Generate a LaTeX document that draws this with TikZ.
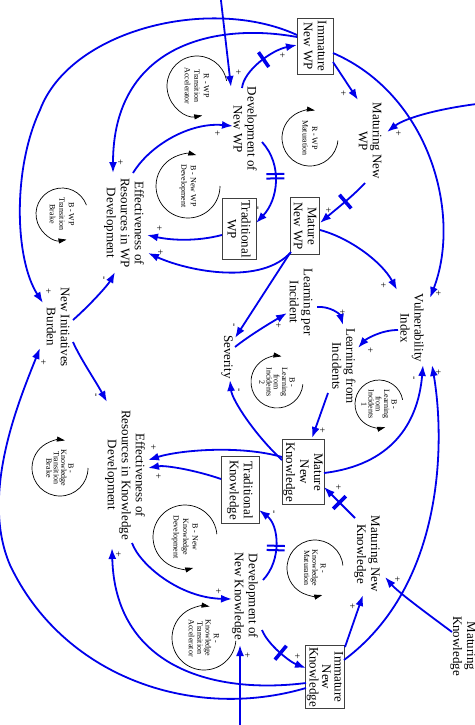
\documentclass[tikz,border=0pt]{standalone}
\usepackage{fontspec}
\setmainfont{Liberation Serif}
\usetikzlibrary{arrows.meta,calc,decorations.markings}
\definecolor{linkblue}{RGB}{0,0,235}
\tikzset{
  link/.style={linkblue, line width=1.8pt, -{Latex[length=11pt,width=8pt]}},
  lbl/.style={align=center, inner sep=1pt, font=\fontsize{13}{14}\selectfont},
  stock/.style={draw=black!75, line width=0.8pt, fill=white, align=center, inner sep=1pt, font=\fontsize{13}{14}\selectfont},
  loopA/.style={align=center, inner sep=0pt, font=\fontsize{8}{9.5}\selectfont},
  loopB/.style={align=center, inner sep=0pt, font=\fontsize{8}{8.3}\selectfont},
  loopC/.style={align=center, inner sep=0pt, font=\fontsize{8}{7.3}\selectfont},
  looparc/.style={black, line width=0.7pt, -{Triangle[length=8pt,width=5pt]}},
  sgn/.style={inner sep=0pt, font=\fontsize{10}{10}\selectfont},
  bar1/.style={postaction={decorate, decoration={markings, mark=at position #1 with {\fill[linkblue] (-1.8,-9) rectangle (1.8,9);}}}},
  bar2/.style={postaction={decorate, decoration={markings, mark=at position #1 with {\fill[linkblue] (-3.2,-9) rectangle (-1.2,9); \fill[linkblue] (1.2,-9) rectangle (3.2,9);}}}},
}
\begin{document}
\begin{tikzpicture}[x=1pt,y=1pt]
\fill[white] (0,0) rectangle (474,-725);
\useasboundingbox (0,0) rectangle (474,-725);
\begin{scope}[rotate=-90, transform shape]
% ---------- variables ----------
\node[stock, minimum width=56pt, minimum height=36pt] (imWP) at (46,315) {Immature\\New WP};
\node[lbl] (devWP) at (129,245) {Development of\\New WP};
\node[lbl] (matgWP) at (141,370) {Maturing New\\WP};
\node[stock, minimum width=57pt, minimum height=29pt] (matWP) at (226,305) {Mature\\New WP};
\node[stock, minimum width=61pt, minimum height=34pt] (tradWP) at (229,239) {Traditional\\WP};
\node[lbl] (effWP) at (223,124) {Effectiveness of\\Resources in WP\\Development};
\node[lbl] (burden) at (327,58) {New Initiatives\\Burden};
\node[lbl] (lpi) at (302,301) {Learning per\\Incident};
\node[lbl] (sev) at (357,227) {Severity};
\node[lbl] (lfi) at (366,344) {Learning from\\Incidents};
\node[lbl] (vul) at (328,412) {Vulnerability\\Index};
\node[stock, minimum width=65pt, minimum height=42pt] (matK) at (472,303) {Mature\\New\\Knowledge};
\node[stock, minimum width=67pt, minimum height=38pt] (tradK) at (490,240) {Traditional\\Knowledge};
\node[lbl] (effK) at (475,125) {Effectiveness of\\Resources in Knowledge\\Development};
\node[lbl] (devK) at (596,245) {Development of\\New Knowledge};
\node[lbl] (matgK) at (554,367) {Maturing New\\Knowledge};
\node[stock, minimum width=63pt, minimum height=38pt, font=\fontsize{13}{12.5}\selectfont] (imK) at (677,325) {Immature\\New\\Knowledge};
\node[lbl] (matgKx) at (646,463) {Maturing\\Knowledge};
\coordinate (topIn) at (-8,220);
\coordinate (rightIn) at (103,485);
\coordinate (botIn) at (733,240);
% ---------- loop labels ----------
\node[loopA] (lp1) at (86,197) {R - WP\\Transition\\Accelerator};
\node[loopA] (lp2) at (138,310) {R - WP\\Maturation};
\node[loopA] (lp3) at (186,188) {B - New WP\\Development};
\node[loopA] (lp4) at (214,62) {B - WP\\Transition\\Brake};
\node[loopC] (lp5) at (382,277) {B -\\Learning\\from\\Incidents\\2};
\node[loopC] (lp6) at (404,379) {B -\\Learning\\from\\Incidents\\1};
\node[loopC] (lp7) at (468,60) {B -\\Knowledge\\Transition\\Brake};
\node[loopA] (lp8) at (537,185) {B - New\\Knowledge\\Development};
\node[loopB] (lp9) at (568,315) {R -\\Knowledge\\Maturation};
\node[loopB] (lp10) at (638,204) {R -\\Knowledge\\Transition\\Accelerator};
\draw[looparc] (lp1.center) ++(100:30) arc[start angle=100, end angle=370, radius=30];
\draw[looparc] (lp2.center) ++(85:28) arc[start angle=85, end angle=-190, radius=28];
\draw[looparc] (lp3.center) ++(90:32) arc[start angle=90, end angle=-195, radius=32];
\draw[looparc] (lp4.center) ++(110:26) arc[start angle=110, end angle=370, radius=26];
\draw[looparc] (lp5.center) ++(85:26) arc[start angle=85, end angle=-190, radius=26];
\draw[looparc] (lp6.center) ++(100:24) arc[start angle=100, end angle=375, radius=24];
\draw[looparc] (lp7.center) ++(90:28) arc[start angle=90, end angle=-190, radius=28];
\draw[looparc] (lp8.center) ++(95:32) arc[start angle=95, end angle=375, radius=32];
\draw[looparc] (lp9.center) ++(95:28) arc[start angle=95, end angle=375, radius=28];
\draw[looparc] (lp10.center) ++(85:32) arc[start angle=85, end angle=-190, radius=32];
% ---------- links ----------
\draw[link] (topIn) -- ($(devWP)+(-42,-14)$);
\draw[link, bar1=0.5] ($(devWP)+(-41,-3)$) .. controls (70,244) and (50,272) .. ($(imWP)+(-1,-18)$);
\draw[link, bar2=0.42] ($(devWP)+(13,17)$) .. controls (165,283) and (200,278) .. ($(tradWP)+(-6,17)$);
\draw[link] ($(effWP)+(-50,9)$) .. controls (145,150) and (122,190) .. ($(devWP)+(-3,-12)$);
\draw[link] ($(imWP)+(-9,-18)$) .. controls (22,215) and (45,113) .. ($(effWP)+(-50,-11)$);
\draw[link] ($(imWP)+(-11,-18)$) .. controls (-5,210) and (30,70) .. (110,40) .. controls (170,12) and (260,15) .. ($(burden)+(-24,-15)$);
\draw[link] ($(imWP)+(16,18)$) -- ($(matgWP)+(-41,-12)$);
\draw[link] ($(imWP)+(7,18)$) .. controls (95,430) and (215,462) .. ($(vul)+(-30,18)$);
\draw[link] (rightIn) .. controls (108,440) and (118,405) .. ($(matgWP)+(-9,17)$);
\draw[link, bar1=0.45] ($(matgWP)+(42,-5)$) .. controls (197,352) and (210,335) .. ($(matWP)+(-3,15)$);
\draw[link] ($(matWP)+(4,15)$) .. controls (238,350) and (262,382) .. ($(vul)+(-38,-15)$);
\draw[link] ($(matWP)+(26,-14)$) .. controls (285,262) and (272,190) .. ($(effWP)+(30,24)$);
\draw[link] ($(tradWP)+(6,-17)$) .. controls (242,195) and (240,170) .. ($(effWP)+(12,23)$);
\draw[link] ($(matWP)+(27,-15)$) -- ($(sev)+(-19,8)$);
\draw[link] ($(sev)+(-10,8)$) .. controls (335,250) and (322,272) .. ($(lpi)+(11,-14)$);
\draw[link] ($(lpi)+(5,16)$) .. controls (306,330) and (314,340) .. ($(lfi)+(-41,-1)$);
\draw[link] ($(vul)+(2,-14)$) .. controls (330,380) and (340,365) .. ($(lfi)+(-18,14)$);
\draw[link] ($(lfi)+(27,-16)$) -- ($(matK)+(-34,9)$);
\draw[link] ($(matK)+(1,21)$) .. controls (465,390) and (425,418) .. ($(vul)+(37,11)$);
\draw[link] ($(imK)+(-17,19)$) .. controls (585,445) and (440,445) .. ($(vul)+(37,20)$);
\draw[link] ($(matK)+(-12,-21)$) .. controls (435,255) and (400,232) .. ($(sev)+(23,3)$);
\draw[link] ($(matK)+(-15,-21)$) .. controls (445,240) and (450,180) .. ($(effK)+(-15,23)$);
\draw[link] ($(tradK)+(-11,-19)$) .. controls (470,195) and (465,165) .. ($(effK)+(-7,23)$);
\draw[link, bar1=0.5] ($(matgK)+(-36,-12)$) -- ($(matK)+(15,21)$);
\draw[link] ($(imK)+(-30,20)$) -- ($(matgK)+(41,-4)$);
\draw[link] ($(matgKx)+(-14,-11)$) .. controls (612,425) and (592,398) .. ($(matgK)+(23,18)$);
\draw[link, bar1=0.5] ($(devK)+(34,17)$) .. controls (645,268) and (662,290) .. ($(imK)+(-9,-19)$);
\draw[link, bar2=0.45] ($(devK)+(-16,18)$) .. controls (560,282) and (525,279) .. ($(tradK)+(20,19)$);
\draw[link] ($(effK)+(68,7)$) .. controls (565,140) and (598,180) .. ($(devK)+(3,-13)$);
\draw[link] ($(imK)+(6,-19)$) .. controls (695,210) and (665,115) .. ($(effK)+(73,-13)$);
\draw[link] ($(imK)+(11,-19)$) .. controls (722,190) and (675,62) .. (565,10) .. controls (495,-20) and (403,18) .. ($(burden)+(21,-18)$);
\draw[link] ($(burden)+(-7,15)$) .. controls (305,90) and (285,108) .. ($(effWP)+(49,-9)$);
\draw[link] ($(burden)+(15,15)$) .. controls (358,80) and (380,95) .. ($(effK)+(-73,-18)$);
\draw[link] (botIn) -- ($(devK)+(49,-5)$);
% ---------- polarity signs ----------
\node[sgn] (s1) at (72,238) {+};
\node[sgn] (s2) at (55,282) {+};
\node[sgn] (s3) at (208,257) {-};
\node[sgn] (s4) at (133,217) {+};
\node[sgn] (s5) at (162,120) {+};
\node[sgn] (s6) at (291,48) {+};
\node[sgn] (s7) at (93,343) {+};
\node[sgn] (s8) at (293,438) {+};
\node[sgn] (s9) at (133,398) {+};
\node[sgn] (s10) at (210,328) {+};
\node[sgn] (s11) at (285,383) {+};
\node[sgn] (s12) at (252,160) {+};
\node[sgn] (s13) at (228,159) {+};
\node[sgn] (s14) at (325,233) {-};
\node[sgn] (s15) at (325,278) {+};
\node[sgn] (s16) at (312,342) {+};
\node[sgn] (s17) at (350,370) {+};
\node[sgn] (s18) at (430,322) {+};
\node[sgn] (s19) at (378,413) {-};
\node[sgn] (s20) at (372,438) {+};
\node[sgn] (s21) at (390,238) {-};
\node[sgn] (s22) at (447,153) {+};
\node[sgn] (s23) at (476,158) {+};
\node[sgn] (s24) at (487,338) {+};
\node[sgn] (s25) at (606,352) {+};
\node[sgn] (s26) at (579,397) {+};
\node[sgn] (s27) at (656,297) {+};
\node[sgn] (s28) at (512,273) {-};
\node[sgn] (s29) at (591,218) {+};
\node[sgn] (s30) at (554,118) {+};
\node[sgn] (s31) at (362,43) {+};
\node[sgn] (s32) at (278,103) {-};
\node[sgn] (s33) at (395,95) {-};
\node[sgn] (s34) at (655,247) {+};
\end{scope}
\end{tikzpicture}
\end{document}
